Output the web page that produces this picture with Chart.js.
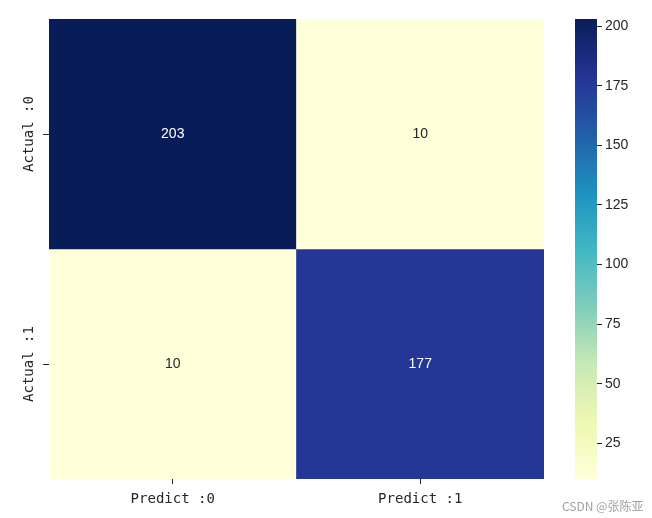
<!DOCTYPE html>
<html>
<head>
<meta charset="utf-8">
<script src="https://cdn.jsdelivr.net/npm/chart.js@4/dist/chart.umd.min.js"></script>
<style>
  body { margin: 0; background: #fff; }
  #wrap { position: relative; width: 652px; height: 518px; }
  #heat { position: absolute; left: 0; top: 0; }
  #cbar { position: absolute; left: 560px; top: 0; }
  #mark { position: absolute; left: 562px; top: 497px; font: 12px "Noto Sans CJK SC", sans-serif; color: #a0a0a0; white-space: nowrap; }
</style>
</head>
<body>
<div id="wrap">
  <canvas id="heat" width="560" height="518"></canvas>
  <canvas id="cbar" width="92" height="518"></canvas>
  <div id="mark">CSDN @张陈亚</div>
</div>
<script>
// confusion matrix
const predictLabels = ['Predict :0', 'Predict :1'];
const actualLabels = ['Actual :0', 'Actual :1'];
const matrixRows = [
    [203, 10],
    [10, 177]
];
const colorbarTicks = [25, 50, 75, 100, 125, 150, 175, 200];

var allValues = [].concat.apply([], matrixRows);
var vmin = Math.min.apply(null, allValues);
var vmax = Math.max.apply(null, allValues);

// YlGnBu
var ylgnbu = ['#ffffd9', '#edf8b1', '#c7e9b4', '#7fcdbb', '#41b6c4', '#1d91c0', '#225ea8', '#253494', '#081d58'];

function hexToRgb(h) {
    return [parseInt(h.substr(1, 2), 16), parseInt(h.substr(3, 2), 16), parseInt(h.substr(5, 2), 16)];
}

function colorFor(v) {
    var t = (v - vmin) / (vmax - vmin);
    t = Math.max(0, Math.min(1, t));
    var pos = t * (ylgnbu.length - 1);
    var i = Math.min(Math.floor(pos), ylgnbu.length - 2);
    var f = pos - i;
    var a = hexToRgb(ylgnbu[i]), b = hexToRgb(ylgnbu[i + 1]);
    var c = a.map(function (x, k) { return Math.round(x + (b[k] - x) * f); });
    return 'rgb(' + c.join(',') + ')';
}

var tickFont = { family: '"DejaVu Sans Mono", monospace', size: 14 };
var numFont = { family: '"Liberation Sans", Arial, sans-serif', size: 14 };

var datasets = matrixRows.map(function (row, r) {
    return {
        label: actualLabels[r],
        data: row.map(function () { return [r, r + 1]; }),
        values: row,
        backgroundColor: row.map(colorFor),
        borderWidth: 0,
        barPercentage: 1,
        categoryPercentage: 1,
        grouped: false
    };
});

// cell numbers + rotated row labels
var annotPlugin = {
    id: 'annot',
    afterDatasetsDraw: function (chart) {
        var ctx = chart.ctx;
        ctx.save();
        ctx.font = '14px ' + numFont.family;
        ctx.textAlign = 'center';
        ctx.textBaseline = 'middle';
        chart.data.datasets.forEach(function (ds, i) {
            chart.getDatasetMeta(i).data.forEach(function (el, j) {
                var v = ds.values[j];
                ctx.fillStyle = (v - vmin) / (vmax - vmin) > 0.5 ? '#ffffff' : '#262626';
                ctx.fillText(String(v), el.x, (el.y + el.base) / 2);
            });
        });
        var ys = chart.scales.y;
        ctx.font = '14px ' + tickFont.family;
        ctx.fillStyle = '#262626';
        actualLabels.forEach(function (lab, r) {
            ctx.save();
            ctx.translate(29, ys.getPixelForValue(r + 0.5));
            ctx.rotate(-Math.PI / 2);
            ctx.fillText(lab, 0, 0);
            ctx.restore();
        });
        ctx.restore();
    }
};

new Chart(document.getElementById('heat'), {
    type: 'bar',
    data: { labels: predictLabels, datasets: datasets },
    options: {
        responsive: false,
        animation: false,
        layout: { padding: { top: 19, right: 16, left: 0, bottom: 0 } },
        plugins: { legend: { display: false }, tooltip: { enabled: false } },
        scales: {
            x: {
                grid: { drawOnChartArea: false, offset: false, tickLength: 5, color: '#262626' },
                border: { display: false },
                ticks: { font: tickFont, color: '#262626', padding: 7 },
                afterFit: function (s) { s.height = 39; }
            },
            y: {
                min: 0,
                max: 2,
                reverse: true,
                afterBuildTicks: function (s) {
                    s.ticks = actualLabels.map(function (l, r) { return { value: r + 0.5 }; });
                },
                grid: { drawOnChartArea: false, tickLength: 6, color: '#262626' },
                border: { display: false },
                ticks: { display: false },
                afterFit: function (s) { s.width = 49; }
            }
        }
    },
    plugins: [annotPlugin]
});

// colorbar
new Chart(document.getElementById('cbar'), {
    type: 'bar',
    data: {
        labels: [''],
        datasets: [{
            data: [[vmin, vmax]],
            borderWidth: 0,
            barPercentage: 1,
            categoryPercentage: 1,
            backgroundColor: function (c) {
                var area = c.chart.chartArea;
                if (!area) return ylgnbu[0];
                var g = c.chart.ctx.createLinearGradient(0, area.bottom, 0, area.top);
                ylgnbu.forEach(function (col, k) { g.addColorStop(k / (ylgnbu.length - 1), col); });
                return g;
            }
        }]
    },
    options: {
        responsive: false,
        animation: false,
        layout: { padding: { top: 19, right: 0, left: 15, bottom: 39 } },
        plugins: { legend: { display: false }, tooltip: { enabled: false } },
        scales: {
            x: { display: false },
            y: {
                position: 'right',
                min: vmin,
                max: vmax,
                afterBuildTicks: function (s) {
                    s.ticks = colorbarTicks.map(function (v) { return { value: v }; });
                },
                grid: { drawOnChartArea: false, tickLength: 5, color: '#262626' },
                border: { display: false },
                ticks: { font: numFont, color: '#262626', padding: 3 },
                afterFit: function (s) { s.width = 55; }
            }
        }
    }
});
</script>
</body>
</html>
